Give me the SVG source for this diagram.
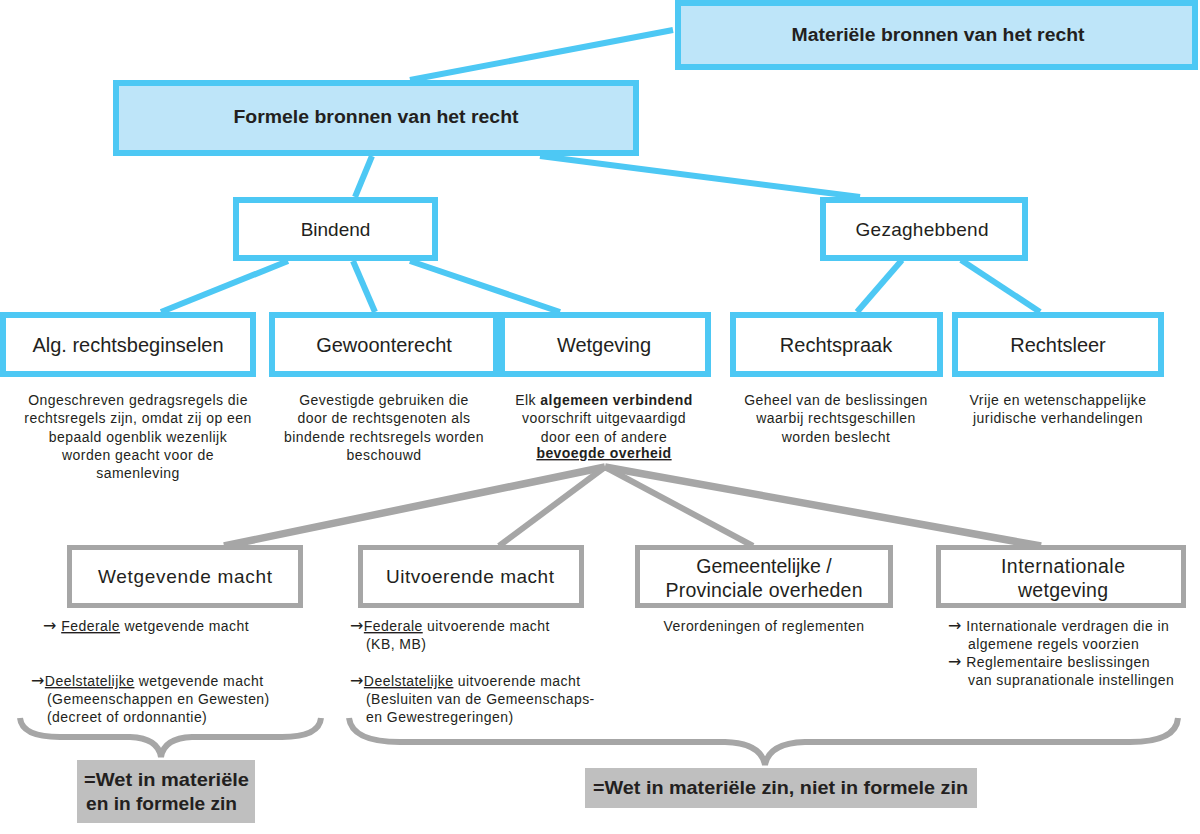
<svg xmlns="http://www.w3.org/2000/svg" width="1200" height="834" viewBox="0 0 1200 834">
<style>
.cb{fill:#BEE5F9;stroke:#4DC8F4;stroke-width:6}
.cw{fill:#FFFFFF;stroke:#4DC8F4;stroke-width:6}
.gw{fill:#FFFFFF;stroke:#A6A6A6;stroke-width:5}
.gf{fill:#BFBFBF;stroke:none}
.cl{stroke:#4DC8F4;stroke-width:6;fill:none}
.gl{stroke:#A6A6A6;stroke-width:6;fill:none;stroke-linecap:butt}
.gL{stroke:#A6A6A6;stroke-width:7.5;fill:none;stroke-linecap:butt}
.br{stroke:#A6A6A6;stroke-width:6;fill:none}
text{font-family:"Liberation Sans",Arial,sans-serif;fill:#231F20}
.tb{font-weight:bold;font-size:18px;text-anchor:middle}
.t2{font-size:20px;text-anchor:middle}
.t1{font-size:19px;text-anchor:middle}
.tg{font-size:19.5px;text-anchor:middle}
.s{font-size:14px;letter-spacing:0.45px}
.sc{font-size:14px;letter-spacing:0.45px;text-anchor:middle}
.u{text-decoration:underline}
.b{font-weight:bold}
.a{font-size:16px;font-family:"DejaVu Sans",sans-serif}
.res{font-weight:bold;font-size:19px}
</style>
<rect width="1200" height="834" fill="#FFFFFF"/>
<g id="connectors">
<line class="cl" x1="673" y1="30" x2="410" y2="80"/>
<line class="cl" x1="372" y1="156" x2="355" y2="197"/>
<line class="cl" x1="540" y1="156" x2="860" y2="197"/>
<line class="cl" x1="288" y1="261" x2="161" y2="312"/>
<line class="cl" x1="353" y1="261" x2="375" y2="312"/>
<line class="cl" x1="410" y1="261" x2="560" y2="312"/>
<line class="cl" x1="902" y1="260" x2="857" y2="312"/>
<line class="cl" x1="961" y1="260" x2="1040" y2="312"/>
<line class="gL" x1="605" y1="467" x2="224" y2="546"/>
<line class="gl" x1="605" y1="467" x2="499" y2="546"/>
<line class="gl" x1="605" y1="467" x2="753" y2="546"/>
<line class="gL" x1="605" y1="467" x2="1041" y2="546"/>
</g>
<g id="materiele">
<rect class="cb" x="678" y="3" width="517" height="64"/>
<text class="tb" x="938" y="41" textLength="293" lengthAdjust="spacingAndGlyphs">Materiële bronnen van het recht</text>
</g>
<g id="formele">
<rect class="cb" x="116" y="83" width="520" height="70"/>
<text class="tb" x="376" y="123" textLength="285" lengthAdjust="spacingAndGlyphs">Formele bronnen van het recht</text>
</g>
<g id="bindend">
<rect class="cw" x="236" y="200" width="199" height="58"/>
<text class="t1" x="335.5" y="235.5">Bindend</text>
</g>
<g id="gezaghebbend">
<rect class="cw" x="823" y="200" width="202" height="58"/>
<text class="t1" x="922" y="235.5" textLength="133">Gezaghebbend</text>
</g>
<g id="alg">
<rect class="cw" x="3" y="315" width="250" height="59"/>
<text class="t2" x="128" y="352">Alg. rechtsbeginselen</text>
</g>
<g id="gewoonterecht">
<rect class="cw" x="272" y="315" width="224" height="59"/>
<text class="t2" x="384" y="352">Gewoonterecht</text>
</g>
<g id="wetgeving">
<rect class="cw" x="502" y="315" width="206" height="59"/>
<text class="t2" x="604" y="352">Wetgeving</text>
</g>
<g id="rechtspraak">
<rect class="cw" x="733" y="315" width="207" height="59"/>
<text class="t2" x="836" y="352">Rechtspraak</text>
</g>
<g id="rechtsleer">
<rect class="cw" x="955" y="315" width="206" height="59"/>
<text class="t2" x="1058" y="352">Rechtsleer</text>
</g>
<g id="desc-alg">
<text class="sc" x="138" y="405">Ongeschreven gedragsregels die</text>
<text class="sc" x="138" y="423">rechtsregels zijn, omdat zij op een</text>
<text class="sc" x="138" y="442">bepaald ogenblik wezenlijk</text>
<text class="sc" x="138" y="460">worden geacht voor de</text>
<text class="sc" x="138" y="478">samenleving</text>
</g>
<g id="desc-gewoonterecht">
<text class="sc" x="384" y="405">Gevestigde gebruiken die</text>
<text class="sc" x="384" y="423">door de rechtsgenoten als</text>
<text class="sc" x="384" y="442">bindende rechtsregels worden</text>
<text class="sc" x="384" y="460">beschouwd</text>
</g>
<g id="desc-wetgeving">
<text class="sc" x="604" y="405">Elk <tspan class="b">algemeen verbindend</tspan></text>
<text class="sc" x="604" y="423">voorschrift uitgevaardigd</text>
<text class="sc" x="604" y="442">door een of andere</text>
<text class="sc" x="604" y="458"><tspan class="b u">bevoegde overheid</tspan></text>
</g>
<g id="desc-rechtspraak">
<text class="sc" x="836" y="405">Geheel van de beslissingen</text>
<text class="sc" x="836" y="423">waarbij rechtsgeschillen</text>
<text class="sc" x="836" y="442">worden beslecht</text>
</g>
<g id="desc-rechtsleer">
<text class="sc" x="1058" y="405">Vrije en wetenschappelijke</text>
<text class="sc" x="1058" y="423">juridische verhandelingen</text>
</g>
<g id="wetgevende">
<rect class="gw" x="69.5" y="547.5" width="231" height="58"/>
<text class="t1" x="185" y="583" textLength="174">Wetgevende macht</text>
</g>
<g id="uitvoerende">
<rect class="gw" x="360.5" y="547.5" width="221" height="58"/>
<text class="t1" x="470" y="583" textLength="168">Uitvoerende macht</text>
</g>
<g id="gemeentelijke">
<rect class="gw" x="637.5" y="547.5" width="253" height="58"/>
<text class="tg" x="764" y="573">Gemeentelijke /</text>
<text class="tg" x="764" y="597" textLength="197">Provinciale overheden</text>
</g>
<g id="internationale">
<rect class="gw" x="938.5" y="547.5" width="245" height="58"/>
<text class="tg" x="1063" y="573" textLength="124">Internationale</text>
<text class="tg" x="1063" y="597" textLength="90">wetgeving</text>
</g>
<g id="desc-wetgevende">
<text class="s" x="43" y="631"><tspan class="a">→</tspan> <tspan class="u">Federale</tspan> wetgevende macht</text>
<text class="s" x="31" y="686"><tspan class="a">→</tspan><tspan class="u">Deelstatelijke</tspan> wetgevende macht</text>
<text class="s" x="47" y="704">(Gemeenschappen en Gewesten)</text>
<text class="s" x="47" y="722">(decreet of ordonnantie)</text>
</g>
<g id="desc-uitvoerende">
<text class="s" x="350" y="631"><tspan class="a">→</tspan><tspan class="u">Federale</tspan> uitvoerende macht</text>
<text class="s" x="366" y="649">(KB, MB)</text>
<text class="s" x="350" y="686"><tspan class="a">→</tspan><tspan class="u">Deelstatelijke</tspan> uitvoerende macht</text>
<text class="s" x="366" y="704">(Besluiten van de Gemeenschaps-</text>
<text class="s" x="366" y="722">en Gewestregeringen)</text>
</g>
<g id="desc-gemeentelijke">
<text class="sc" x="764" y="631">Verordeningen of reglementen</text>
</g>
<g id="desc-internationale">
<text class="s" x="948" y="631"><tspan class="a">→</tspan> Internationale verdragen die in</text>
<text class="s" x="968" y="649">algemene regels voorzien</text>
<text class="s" x="948" y="667"><tspan class="a">→</tspan> Reglementaire beslissingen</text>
<text class="s" x="968" y="685">van supranationale instellingen</text>
</g>
<g id="braces">
<path class="br" d="M20,718 Q22,737 60,737 L130,737 Q158,738 161,757 Q164,738 192,737 L282,737 Q319,737 321,718"/>
<path class="br" d="M349,718 Q352,742 400,742 L725,742 Q761,743 765,765 Q769,743 805,742 L1130,742 Q1176,742 1178,718"/>
</g>
<g id="result-formeel">
<rect class="gf" x="77" y="760" width="178" height="63"/>
<text class="res" x="84" y="786" textLength="165" lengthAdjust="spacingAndGlyphs">=Wet in materiële</text>
<text class="res" x="86" y="810" textLength="151" lengthAdjust="spacingAndGlyphs">en in formele zin</text>
</g>
<g id="result-materieel">
<rect class="gf" x="585" y="768" width="392" height="40"/>
<text class="res" x="593" y="794" textLength="375" lengthAdjust="spacingAndGlyphs">=Wet in materiële zin, niet in formele zin</text>
</g>
</svg>
